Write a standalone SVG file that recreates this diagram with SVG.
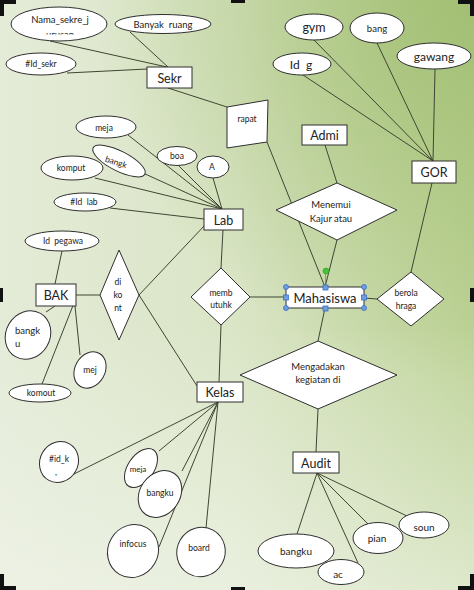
<svg xmlns="http://www.w3.org/2000/svg" width="474" height="590" viewBox="0 0 474 590">
<defs>
<linearGradient id="bg" x1="0" y1="0" x2="1" y2="0">
<stop offset="0" stop-color="#e4ebd7"/>
<stop offset="0.5" stop-color="#dae5c6"/>
<stop offset="1" stop-color="#bed398"/>
</linearGradient>
<radialGradient id="tr" cx="474" cy="0" r="380" gradientUnits="userSpaceOnUse">
<stop offset="0" stop-color="#9fbd6f" stop-opacity="0.9"/>
<stop offset="1" stop-color="#9fbd6f" stop-opacity="0"/>
</radialGradient>
<linearGradient id="bot" x1="0" y1="0" x2="0" y2="1">
<stop offset="0.55" stop-color="#f3f6ee" stop-opacity="0"/>
<stop offset="1" stop-color="#f3f6ee" stop-opacity="0.6"/>
</linearGradient>
<clipPath id="cutNama"><rect x="0" y="0" width="120" height="34.5"/></clipPath>
<style>
.ln{stroke:#3e4633;stroke-width:1;fill:none}
.sh{fill:#ffffff;stroke:#2f2f2f;stroke-width:1}
.t{font-family:Lato,"Open Sans",sans-serif;fill:#222;text-anchor:middle;dominant-baseline:central}
.e{font-size:12.5px}
.s{font-size:8.5px}
.m{font-size:9.5px}
.mark{fill:#111}
.hc{fill:#6d9de2;stroke:#3c6fc2;stroke-width:0.8}
</style>
</defs>
<rect x="0" y="0" width="474" height="590" fill="url(#bg)"/>
<rect x="0" y="0" width="474" height="590" fill="url(#tr)"/>
<rect x="0" y="0" width="474" height="590" fill="url(#bot)"/>

<g id="crop-marks">
<path class="mark" d="M0 0H16V4H4V16H0Z"/>
<path class="mark" d="M458 0H474V16H470V4H458Z"/>
<path class="mark" d="M0 590H16V586H4V574H0Z"/>
<path class="mark" d="M458 590H474V574H470V586H458Z"/>
<rect class="mark" x="231" y="0" width="14" height="3"/>
<rect class="mark" x="231" y="587" width="14" height="3"/>
<rect class="mark" x="0" y="288" width="3" height="14"/>
<rect class="mark" x="470" y="288" width="4" height="14"/>
</g>

<g id="connectors">
<line class="ln" x1="50" y1="41" x2="167" y2="67"/>
<line class="ln" x1="130" y1="32" x2="168" y2="67"/>
<line class="ln" x1="67" y1="73" x2="147" y2="69"/>
<line class="ln" x1="168" y1="88" x2="227" y2="107"/>
<line class="ln" x1="267" y1="142" x2="325" y2="287"/>
<line class="ln" x1="325" y1="145" x2="337" y2="183"/>
<line class="ln" x1="337" y1="240" x2="325" y2="287"/>
<line class="ln" x1="303" y1="75" x2="433" y2="161"/>
<line class="ln" x1="314" y1="40" x2="433" y2="161"/>
<line class="ln" x1="377" y1="43" x2="433" y2="161"/>
<line class="ln" x1="435" y1="69" x2="433" y2="161"/>
<line class="ln" x1="432" y1="183" x2="411" y2="272"/>
<line class="ln" x1="364" y1="298" x2="377" y2="299"/>
<line class="ln" x1="250" y1="297" x2="286" y2="297"/>
<line class="ln" x1="223" y1="230" x2="221" y2="268"/>
<line class="ln" x1="221" y1="325" x2="219" y2="382"/>
<line class="ln" x1="128" y1="135" x2="222" y2="209"/>
<line class="ln" x1="143" y1="173" x2="222" y2="209"/>
<line class="ln" x1="95" y1="178" x2="222" y2="209"/>
<line class="ln" x1="178" y1="165" x2="222" y2="209"/>
<line class="ln" x1="213" y1="178" x2="222" y2="209"/>
<line class="ln" x1="110" y1="208" x2="204" y2="219"/>
<line class="ln" x1="205" y1="225" x2="139" y2="295"/>
<line class="ln" x1="139" y1="295" x2="197" y2="386"/>
<line class="ln" x1="76" y1="295" x2="100" y2="295"/>
<line class="ln" x1="62" y1="251" x2="55" y2="284"/>
<line class="ln" x1="46" y1="312" x2="55" y2="306"/>
<line class="ln" x1="80" y1="355" x2="75" y2="306"/>
<line class="ln" x1="42" y1="384" x2="74" y2="303"/>
<line class="ln" x1="72" y1="475" x2="218" y2="402"/>
<line class="ln" x1="159" y1="451" x2="218" y2="402"/>
<line class="ln" x1="182" y1="471" x2="218" y2="402"/>
<line class="ln" x1="159" y1="547" x2="218" y2="402"/>
<line class="ln" x1="206" y1="528" x2="218" y2="402"/>
<line class="ln" x1="325" y1="308" x2="318" y2="341"/>
<line class="ln" x1="318" y1="409" x2="316" y2="452"/>
<line class="ln" x1="297" y1="534" x2="317" y2="473"/>
<line class="ln" x1="358" y1="563" x2="317" y2="473"/>
<line class="ln" x1="368" y1="524" x2="317" y2="473"/>
<line class="ln" x1="407" y1="516" x2="317" y2="473"/>
</g>

<g id="attr-nama"><ellipse class="sh" cx="59" cy="24" rx="48" ry="17"/><text class="t m" x="60" y="19">Nama_sekre_j</text><text class="t m" x="60" y="34" clip-path="url(#cutNama)">urusan</text></g>
<g id="attr-banyak"><ellipse class="sh" cx="163" cy="24" rx="48" ry="9.5"/><text class="t m" x="163" y="24.5">Banyak&#160; ruang</text></g>
<g id="attr-idsekr"><ellipse class="sh" cx="41" cy="64" rx="35" ry="11"/><text class="t s" x="41" y="64">#Id_sekr</text></g>
<g id="ent-sekr"><rect class="sh" x="147" y="67" width="45" height="21"/><text class="t e" x="169.5" y="78.5">Sekr</text></g>
<g id="rel-rapat"><polygon class="sh" points="227,107 268,100 267,142 227,148"/><text class="t s" x="247" y="119">rapat</text></g>

<g id="attr-gym"><ellipse class="sh" cx="314" cy="27" rx="29" ry="13"/><text class="t e" x="314" y="27">gym</text></g>
<g id="attr-bang"><ellipse class="sh" cx="377" cy="28" rx="27" ry="15"/><text class="t m" x="377" y="28">bang</text></g>
<g id="attr-gawang"><ellipse class="sh" cx="434" cy="56" rx="37" ry="13"/><text class="t" style="font-size:12px" x="434" y="56">gawang</text></g>
<g id="attr-idg"><ellipse class="sh" cx="302" cy="64" rx="29" ry="11"/><text class="t" style="font-size:12px" x="301" y="64">Id&#160; g</text></g>
<g id="ent-admi"><rect class="sh" x="302" y="125" width="45" height="20"/><text class="t e" x="324.5" y="135">Admi</text></g>
<g id="ent-gor"><rect class="sh" x="412" y="161" width="44" height="22"/><text class="t e" x="434" y="172">GOR</text></g>
<g id="rel-menemui"><polygon class="sh" points="276,210 337,183 397,210 337,240"/><text class="t m" x="331" y="204">Menemui</text><text class="t m" x="331" y="218">Kajur atau</text></g>
<g id="rel-berola"><polygon class="sh" points="411,272 444,299 411,326 377,299"/><text class="t s" x="406" y="293">berola</text><text class="t s" x="406" y="306">hraga</text></g>

<g id="attr-meja-lab"><ellipse class="sh" cx="106" cy="127" rx="30" ry="11"/><text class="t s" x="104" y="128">meja</text></g>
<g id="attr-bangk-lab"><ellipse class="sh" cx="119" cy="161" rx="29" ry="10" transform="rotate(27 119 161)"/><text class="t s" x="116" y="162" transform="rotate(18 116 162)">bangk</text></g>
<g id="attr-boa"><ellipse class="sh" cx="177" cy="156" rx="20" ry="9.5"/><text class="t s" x="177" y="156">boa</text></g>
<g id="attr-a"><ellipse class="sh" cx="213" cy="167" rx="16" ry="11"/><text class="t s" x="212" y="167">A</text></g>
<g id="attr-komput"><ellipse class="sh" cx="72" cy="168" rx="31" ry="12"/><text class="t s" x="71" y="168">komput</text></g>
<g id="attr-idlab"><ellipse class="sh" cx="85" cy="202" rx="31" ry="9"/><text class="t s" x="84" y="202">#Id&#160; lab</text></g>
<g id="ent-lab"><rect class="sh" x="204" y="209" width="39" height="21"/><text class="t e" x="223.5" y="220">Lab</text></g>

<g id="attr-idpegawa"><ellipse class="sh" cx="62" cy="241" rx="37" ry="10"/><text class="t s" x="63" y="241">Id&#160; pegawa</text></g>
<g id="ent-bak"><rect class="sh" x="36" y="284" width="40" height="22"/><text class="t e" x="56" y="295">BAK</text></g>
<g id="attr-bangku-bak"><ellipse class="sh" cx="28" cy="335" rx="25" ry="22" transform="rotate(-60 28 335)"/><text class="t m" x="15" y="330" style="text-anchor:start">bangk</text><text class="t m" x="15" y="343" style="text-anchor:start">u</text></g>
<g id="attr-mej"><ellipse class="sh" cx="90" cy="370" rx="19" ry="15" transform="rotate(-60 90 370)"/><text class="t s" x="90" y="370">mej</text></g>
<g id="attr-komout"><ellipse class="sh" cx="40" cy="393" rx="31" ry="9"/><text class="t s" x="41" y="393">komout</text></g>
<g id="rel-dikont"><polygon class="sh" points="119,250 139,295 119,340 100,295"/><text class="t s" x="118" y="282">di</text><text class="t s" x="118" y="295">ko</text><text class="t s" x="118" y="308">nt</text></g>
<g id="rel-membutuhk"><polygon class="sh" points="221,268 250,297 221,325 191,297"/><text class="t s" x="221" y="293">memb</text><text class="t s" x="221" y="305">utuhk</text></g>

<g id="ent-mahasiswa"><rect class="sh" x="286" y="287" width="78" height="21"/><text class="t" style="font-size:13px" x="325" y="298">Mahasiswa</text>
<line x1="325.5" y1="273" x2="325.5" y2="287" stroke="#3c6fc2" stroke-width="0.6"/>
<circle cx="326" cy="271" r="3" fill="#45c43a" stroke="#2e9a26" stroke-width="0.6"/>
<circle class="hc" cx="286" cy="287" r="2.5"/><circle class="hc" cx="364" cy="287" r="2.5"/><circle class="hc" cx="286" cy="308" r="2.5"/><circle class="hc" cx="364" cy="308" r="2.5"/>
<rect class="hc" x="323" y="285" width="5" height="5"/><rect class="hc" x="323" y="306" width="5" height="5"/><rect class="hc" x="283.5" y="295" width="5" height="5"/><rect class="hc" x="361.5" y="295" width="5" height="5"/></g>
<g id="rel-mengadakan"><polygon class="sh" points="240,375 318,341 397,375 318,409"/><text class="t m" x="318" y="366">Mengadakan</text><text class="t m" x="318" y="379">kegiatan di</text></g>

<g id="ent-kelas"><rect class="sh" x="197" y="382" width="46" height="20"/><text class="t e" x="220" y="392">Kelas</text></g>
<g id="attr-idk"><ellipse class="sh" cx="59" cy="462" rx="21" ry="19" transform="rotate(-60 59 462)"/><text class="t s" x="59" y="459">#id_k</text><text class="t s" x="56" y="472">,</text></g>
<g id="attr-meja-kelas"><ellipse class="sh" cx="141" cy="468" rx="22" ry="13" transform="rotate(-55 141 468)"/><text class="t" style="font-size:8px" x="138" y="469">meja</text></g>
<g id="attr-bangku-kelas"><ellipse class="sh" cx="160" cy="494" rx="25" ry="20" transform="rotate(-55 160 494)"/><text class="t s" x="160" y="493">bangku</text></g>
<g id="attr-infocus"><ellipse class="sh" cx="133" cy="551" rx="27" ry="25" transform="rotate(-60 133 551)"/><text class="t s" x="133" y="544">infocus</text></g>
<g id="attr-board"><ellipse class="sh" cx="201" cy="552" rx="25" ry="24" transform="rotate(-60 201 552)"/><text class="t s" x="199" y="548">board</text></g>

<g id="ent-audit"><rect class="sh" x="293" y="452" width="46" height="21"/><text class="t e" x="316" y="463">Audit</text></g>
<g id="attr-bangku-audit"><ellipse class="sh" cx="296" cy="551" rx="38" ry="17"/><text class="t" style="font-size:10px" x="296" y="551">bangku</text></g>
<g id="attr-ac"><ellipse class="sh" cx="341" cy="572" rx="23" ry="12.5"/><text class="t" style="font-size:10px" x="338" y="574">ac</text></g>
<g id="attr-pian"><ellipse class="sh" cx="378" cy="538" rx="25" ry="15.5"/><text class="t" style="font-size:10px" x="377" y="538">pian</text></g>
<g id="attr-soun"><ellipse class="sh" cx="424" cy="525" rx="25" ry="13"/><text class="t" style="font-size:10px" x="424" y="527">soun</text></g>
</svg>
